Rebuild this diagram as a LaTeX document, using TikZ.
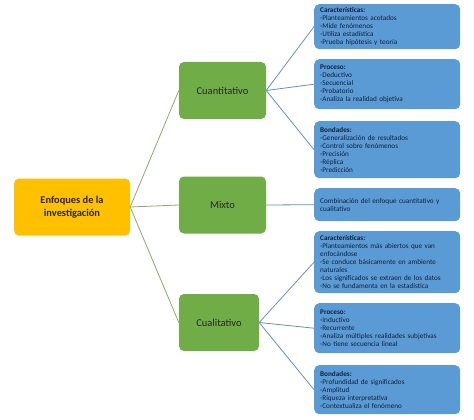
\documentclass[tikz,border=0pt]{standalone}
\usepackage{fontspec}
\setmainfont{Carlito}
\usepackage{tikz}
\usetikzlibrary{positioning}
\usepackage{xcolor}
\definecolor{rootfill}{HTML}{FFC000}
\definecolor{greenfill}{HTML}{70AD47}
\definecolor{bluefill}{HTML}{5B9BD5}
\definecolor{greenline}{HTML}{8DAA6C}
\definecolor{blueline}{HTML}{6A8CBE}
\definecolor{bluetext}{HTML}{13203A}

\begin{document}
\begin{tikzpicture}[
  x=1pt,y=-1pt,
  rootbox/.style={fill=rootfill,rounded corners=5pt,minimum width=116pt,minimum height=57pt,align=center,
    font=\fontsize{10.4}{13.3}\selectfont\bfseries,text=black!85,inner sep=2pt},
  typebox/.style={fill=greenfill,rounded corners=5pt,minimum width=87pt,minimum height=57pt,align=center,
    font=\fontsize{10.5}{12}\selectfont,text=black!85,inner sep=2pt},
  infobox/.style={fill=bluefill,rounded corners=5pt,text width=134pt,inner xsep=6pt,inner ysep=1pt,align=left,
    font=\fontsize{7.2}{8}\selectfont,text=bluetext,anchor=north west},
  gline/.style={draw=greenline,line width=0.8pt},
  bline/.style={draw=blueline,line width=0.8pt}
]
\useasboundingbox (0,0) rectangle (474,420);
% main nodes
\node[rootbox] (root) at (72,207) {Enfoques de la\\investigación};
\node[typebox] (cuanti) at (222.5,90.5) {Cuantitativo};
\node[typebox] (mixto) at (222.5,205) {Mixto};
\node[typebox,minimum width=80pt] (cuali) at (219,322.5) {Cualitativo};
% detail boxes
\node[infobox,minimum height=45pt] (cuantiCar) at (314,4) {\textbf{Características:}\\-Planteamientos acotados\\-Mide fenómenos\\-Utiliza estadística\\-Prueba hipótesis y teoría};
\node[infobox,minimum height=50pt] (cuantiPro) at (314,59) {\textbf{Proceso:}\\-Deductivo\\-Secuencial\\-Probatorio\\-Analiza la realidad objetiva};
\node[infobox,minimum height=57pt] (cuantiBon) at (314,121) {\textbf{Bondades:}\\-Generalización de resultados\\-Control sobre fenómenos\\-Precisión\\-Réplica\\-Predicción};
\node[infobox,minimum height=33pt] (mixtoDef) at (314,188) {Combinación del enfoque cuantitativo y\\cualitativo};
\node[infobox,minimum height=62pt] (cualiCar) at (314,231) {\textbf{Características:}\\-Planteamientos más abiertos que van\\enfocándose\\-Se conduce básicamente en ambiente\\naturales\\-Los significados se extraen de los datos\\-No se fundamenta en la estadística};
\node[infobox,minimum height=50pt] (cualiPro) at (314,303) {\textbf{Proceso:}\\-Inductivo\\-Recurrente\\-Analiza múltiples realidades subjetivas\\-No tiene secuencia lineal};
\node[infobox,minimum height=49pt] (cualiBon) at (314,365) {\textbf{Bondades:}\\-Profundidad de significados\\-Amplitud\\-Riqueza interpretativa\\-Contextualiza el fenómeno};
% connectors
\draw[gline] (root.east) -- (cuanti.west);
\draw[gline] (root.east) -- (mixto.west);
\draw[gline] (root.east) -- (cuali.west);
\draw[bline] (cuanti.east) -- (cuantiCar.west);
\draw[bline] (cuanti.east) -- (cuantiPro.west);
\draw[bline] (cuanti.east) -- (cuantiBon.west);
\draw[bline] (mixto.east) -- (mixtoDef.west);
\draw[bline] (cuali.east) -- (cualiCar.west);
\draw[bline] (cuali.east) -- (cualiPro.west);
\draw[bline] (cuali.east) -- (cualiBon.west);
\end{tikzpicture}
\end{document}
